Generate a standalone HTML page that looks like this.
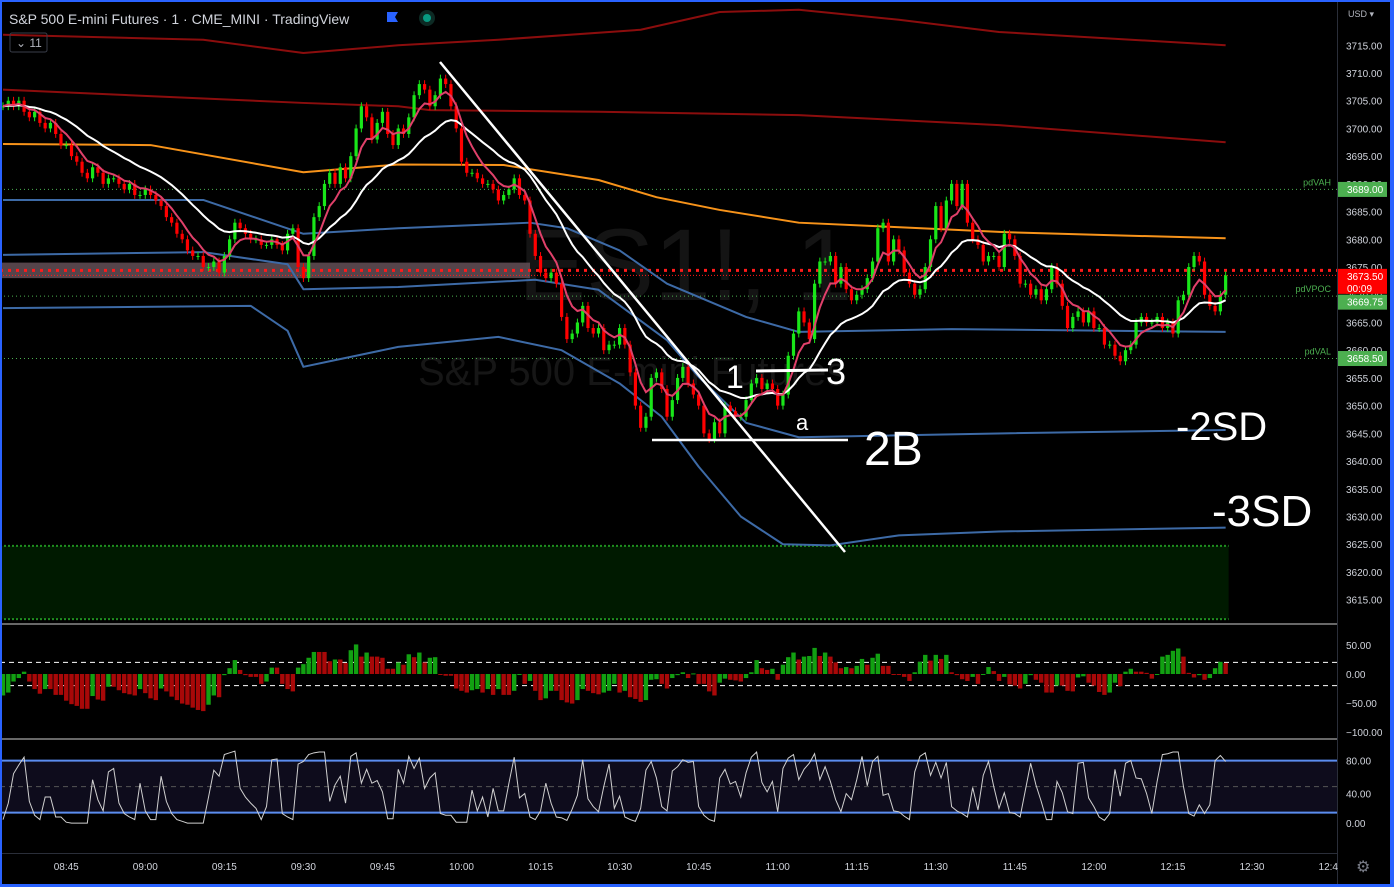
<!DOCTYPE html>
<html><head><meta charset="utf-8"><style>
html,body{margin:0;padding:0;background:#000;width:1394px;height:887px;overflow:hidden}
svg{display:block}
text{font-family:"Liberation Sans",sans-serif}
</style></head><body>
<svg id="c" width="1394" height="887" viewBox="0 0 1394 887" xmlns="http://www.w3.org/2000/svg">
<rect x="0" y="0" width="1394" height="887" fill="#000"/>
<g id="wm">
<text x="518" y="300" font-size="102" fill="#141414">ES1!, 1</text>
<text x="418" y="385" font-size="40" fill="#161616">S&amp;P 500 E-mini Futures</text>
</g>
<g id="main"></g>
<g id="hist"></g>
<g id="stoch"></g>
<g id="axes"></g>
<g id="draw" stroke="#fff" fill="none">
<line x1="440" y1="62" x2="845" y2="552" stroke-width="2.5"/>
<line x1="652" y1="440" x2="848" y2="440" stroke-width="2.5"/>
<line x1="756" y1="371" x2="828" y2="370" stroke-width="3"/>
</g>
<g fill="#fff">
<text x="726" y="388" font-size="32">1</text>
<text x="826" y="384" font-size="36">3</text>
<text x="796" y="430" font-size="22">a</text>
<text x="864" y="465" font-size="48">2B</text>
<text x="1176" y="440" font-size="40">-2SD</text>
<text x="1212" y="526" font-size="44">-3SD</text>
</g>
<g>
<text x="9" y="24" font-size="14" fill="#d1d4dc">S&amp;P 500 E-mini Futures · 1 · CME_MINI · TradingView</text>
<path d="M387 12 h11 l-3 5 l3 5 h-11 z" fill="#2962ff"/>
<circle cx="427" cy="18" r="8" fill="#0d2a24"/>
<circle cx="427" cy="18" r="4" fill="#089981"/>
<rect x="10" y="33" width="37" height="19" rx="2" fill="none" stroke="#3a3e4a"/>
<text x="16" y="47" font-size="12" fill="#b2b5be">⌄ 11</text>
<text x="1348" y="17" font-size="9" fill="#b2b5be">USD ▾</text>
<text x="1356" y="872" font-size="16" fill="#787b86">⚙</text>
</g>
<g fill="#2962ff">
<rect x="0" y="0" width="1394" height="2"/><rect x="0" y="0" width="2" height="887"/>
<rect x="1390" y="0" width="4" height="887"/><rect x="0" y="884" width="1394" height="3"/>
</g>
</svg>
<script>
const NS='http://www.w3.org/2000/svg';
// ---- data ----
const closes=[3704,3705,3704,3705,3703,3702,3703,3701,3700,3701,3699,3697,3697,3695,3694,3692,3691,3693,3692,3690,3691,3691,3690,3689,3690,3688,3688,3689,
3688,3687,3686,3684,3683,3681,3680,3678,3677,3677,3675,3675,3676,3674,3677,
3680,3683,3682,3681,3680,3680,3679,3679,3680,3679,3678,3681,3682,3675,3673,
3677,3684,3686,3690,3692,3690,3693,3691,3695,3700,3704,3702,3698,3701,3703,3699,3697,3700,3699,3702,3706,3708,3707,3704,3706,3709,3708,3704,3700,3694,
3692,3692,3691,3690,3690,3689,3687,3688,3689,3691,3688,3687,3681,3677,3674,3673,3674,3672,3666,3662,3663,3665,3668,3664,3663,3664,3660,3661,3661,3664,
3661,3656,3650,3646,3648,3655,3656,3653,3648,3651,3655,3657,3654,3652,3650,3645,3644,3647,3645,3650,3649,3648,3648,3651,3654,3655,3653,3654,3653,3650,
3652,3659,3663,3667,3665,3662,3672,3676,3676,3677,3672,3675,3671,3669,3670,3671,3673,3676,3682,3683,3676,3680,3678,3674,3672,3670,3671,3675,3680,3686,
3682,3687,3690,3686,3690,3683,3680,3679,3676,3677,3677,3675,3681,3680,3677,3672,3672,3670,3671,3669,3671,3675,3672,3668,3664,3666,3667,3665,3667,3664,
3664,3661,3661,3659,3658,3660,3661,3665,3666,3665,3665,3666,3664,3665,3663,3669,3670,3675,3677,3676,3670,3668,3667,3670,3673.5];
const histVals=[-37,-32,-13,-7,4,-13,-26,-34,-26,-26,-36,-36,-46,-52,-55,-60,-60,-38,-44,-46,-22,-22,-28,-33,-35,-37,-26,-33,-42,-45,
-25,-30,-39,-45,-51,-53,-58,-62,-64,-53,-37,-40,-2,10,24,7,-2,-5,-5,-17,-13,11,11,-17,-26,-30,11,17,28,38,
38,38,22,25,25,19,41,51,30,37,30,30,28,9,9,20,16,34,29,37,20,28,29,0,-3,-3,-25,-29,-32,-28,
-26,-32,-26,-36,-26,-36,-36,-29,0,-17,-12,-29,-45,-42,-29,-29,-45,-49,-51,-45,-26,-29,-33,-35,-32,-29,-17,-32,-29,-40,
-43,-48,-45,-10,-9,-17,-25,-7,-2,3,-7,
1,-17,-17,-30,-37,-15,-8,-10,-11,-13,-7,3,24,10,7,9,-10,16,29,37,25,30,31,45,31,37,30,20,10,12,
10,14,26,16,28,35,14,14,0,0,-5,-12,3,21,33,23,33,26,33,3,-2,-9,-12,-5,-17,0,12,5,-12,-5,
-18,-20,-25,-17,-2,-10,-15,-32,-32,-20,-20,-29,-30,-6,-4,-15,-20,-31,-36,-32,-15,-21,4,9,4,4,2,-8,0,30,
33,40,44,30,2,-6,-2,-10,-7,10,21,19];
const stochVals=[12,31,65,75,84,33,17,12,38,38,15,15,9,8,8,8,8,58,35,22,67,71,31,19,15,12,54,22,12,12,
62,33,19,12,10,8,8,8,8,38,69,62,87,89,91,48,38,31,25,12,27,81,82,19,15,12,76,79,87,89,
90,90,33,52,62,31,85,89,54,70,54,57,44,13,13,70,54,85,71,83,48,60,66,19,17,17,9,9,9,46,
22,38,15,48,22,22,54,84,37,42,15,12,22,54,31,15,14,11,24,40,81,36,27,21,50,76,25,39,15,12,
10,25,69,79,60,27,22,68,73,81,
78,79,27,17,12,10,60,70,53,56,38,66,84,90,55,44,56,21,71,83,87,58,70,77,88,58,73,56,35,21,
42,35,58,85,51,79,85,40,42,22,21,16,12,67,85,89,63,78,60,78,27,22,19,15,49,23,63,79,50,25,
43,20,19,15,46,77,52,33,12,12,56,43,21,19,77,78,37,27,15,11,19,70,39,77,80,60,59,42,19,56,
87,88,90,90,50,19,16,29,19,29,80,86,79];
const bandIdxOrange=[0,28,57,75,95,113,124,136,151,165,190,208,232];
const bandOrange=[3697.2,3697,3692.1,3693.5,3693.4,3690.7,3687.6,3685.3,3683,3682.4,3681.3,3680.8,3680.2];
const bandIdxB1=[0,38,57,66,75,100,107,117,126,141,151,180,232];
const bandB1=[3687.1,3687.1,3681,3681.5,3682,3683,3682,3678,3672,3666,3663.3,3663.8,3663.3];
const bandIdxB2=[0,38,54,57,75,101,113,126,132,141,151,190,232];
const bandB2=[3677.2,3677.7,3675.5,3671,3671.4,3672.7,3670.9,3661.8,3655.2,3646.9,3644.3,3645,3645.6];
const bandIdxB3=[0,47,54,57,62,75,94,106,117,125,132,140,148,157,170,189,232];
const bandB3=[3667.6,3668,3663.5,3657,3658,3660.6,3662.4,3660,3654,3648,3639,3630,3625,3624.8,3626.6,3627.3,3628];
const bandIdxR2=[0,57,75,81,113,151,189,232];
const bandR2=[3707,3704.6,3704,3703.3,3703,3702.4,3700.6,3697.5];
const bandIdxR3=[0,38,57,75,94,121,136,151,170,189,232];
const bandR3=[3716.9,3716,3713.6,3715,3716,3717.8,3721,3721.4,3719.6,3717.4,3715];
const priceTicks=[3715,3710,3705,3700,3695,3690,3685,3680,3675,3670,3665,3660,3655,3650,3645,3640,3635,3630,3625,3620,3615];
const timeLabels=['08:45','09:00','09:15','09:30','09:45','10:00','10:15','10:30','10:45','11:00','11:15','11:30','11:45','12:00','12:15','12:30','12:45'];
const startMinute=8*60+33;
const histTicks=[50,0,-50,-100];
const stochTicks=[80,40,0];
const levelVAH=3689, levelPOC=3669.75, levelVAL=3658.5, lastPrice=3673.5;
// ---- scales ----
const X=i=>3+5.27*i;
const Y=p=>73+(3710-p)*5.544;
const HY=v=>674-v*0.58;
const SY=v=>830-v*0.867;
function el(tag,attrs,parent){const e=document.createElementNS(NS,tag);for(const k in attrs)e.setAttribute(k,attrs[k]);parent.appendChild(e);return e;}
const main=document.getElementById('main'),hist=document.getElementById('hist'),stoch=document.getElementById('stoch'),axes=document.getElementById('axes');
// zones
let z=el('rect',{x:0,y:Y(3624.7),width:X(232)+3,height:Y(3611.5)-Y(3624.7),fill:'#001a00'},main);


[3624.7,3611.5].forEach(p=>{let l=el('line',{x1:0,x2:X(232)+3,y1:Y(p),y2:Y(p),stroke:'#1f8f1f','stroke-width':2,'stroke-dasharray':'2 2'},main);

});
let g=el('rect',{x:0,y:Y(3675.8),width:530,height:Y(3673)-Y(3675.8),fill:'#5e4b52',opacity:0.9},main);


// levels
[[levelVAH,'pdVAH'],[levelPOC,'pdVPOC'],[levelVAL,'pdVAL']].forEach(([p,n])=>{
 let l=el('line',{x1:0,x2:1338,y1:Y(p),y2:Y(p),stroke:'#4caf50','stroke-width':1,'stroke-dasharray':'1 3'},main);
 
 
 let t=el('text',{x:1331,y:Y(p)-4,'font-size':9,fill:'#4caf50','text-anchor':'end'},main);t.textContent=n;
 
 
});
let rl=el('line',{x1:0,x2:1338,y1:Y(lastPrice)-5,y2:Y(lastPrice)-5,stroke:'#ff1a1a','stroke-width':3,'stroke-dasharray':'3 5'},main);


let pl=el('line',{x1:0,x2:1338,y1:Y(lastPrice),y2:Y(lastPrice),stroke:'#ff1a1a','stroke-width':1,'stroke-dasharray':'1 2'},main);


// bands
function band(idx,vals,color,w,name){const pts=idx.map((i,k)=>X(i)+','+Y(vals[k])).join(' ');
 const b=el('polyline',{points:pts,fill:'none',stroke:color,'stroke-width':w,'stroke-linejoin':'round'},main);
 
 }
band(bandIdxR3,bandR3,'#8b0d0d',2,'vwap-upper-3sd');
band(bandIdxR2,bandR2,'#8b0d0d',2,'vwap-upper-2sd');
band(bandIdxOrange,bandOrange,'#f7931a',2,'vwap-line');
band(bandIdxB1,bandB1,'#3d6aa6',2,'vwap-lower-1sd');
band(bandIdxB2,bandB2,'#3d6aa6',2,'vwap-lower-2sd');
band(bandIdxB3,bandB3,'#3d6aa6',2,'vwap-lower-3sd');
// candles
for(let i=0;i<closes.length;i++){
 const o=i?closes[i-1]:closes[0],c=closes[i],up=c>=o,col=up?'#19e619':'#ff0000';
 const hi=Math.max(o,c)+0.7,lo=Math.min(o,c)-0.7;
 const w=el('line',{x1:X(i),x2:X(i),y1:Y(hi),y2:Y(lo),stroke:col,'stroke-width':1},main);
 
 
 const r=el('rect',{x:X(i)-1.6,y:Y(Math.max(o,c)),width:3.2,height:Math.max(1,Math.abs(Y(o)-Y(c))),fill:col},main);
 
 
}
function ema(a,n){const k=2/(n+1);let out=[],e=a[0];for(const v of a){e=v*k+e*(1-k);out.push(e);}return out;}
[[ema(closes,20),'#ffffff','ema-slow'],[ema(closes,6),'#e0406a','ema-fast']].forEach(([s,col,n])=>{
 const p=el('polyline',{points:s.map((v,i)=>X(i)+','+Y(v)).join(' '),fill:'none',stroke:col,'stroke-width':2},main);
 
 
});
// panel separators
[624,739].forEach(y=>{const l=el('line',{x1:0,x2:1338,y1:y,y2:y,stroke:'#d0d0d0','stroke-width':1},axes);
 
 });
let ta=el('line',{x1:0,x2:1338,y1:853.5,y2:853.5,stroke:'#2a2e39'},axes);


let pa=el('line',{x1:1337.5,x2:1337.5,y1:2,y2:884,stroke:'#2a2e39'},axes);


// histogram
[20,-20].forEach(v=>{const l=el('line',{x1:0,x2:1338,y1:HY(v),y2:HY(v),stroke:'#fff','stroke-dasharray':'5 4'},hist);
 
 });
histVals.forEach((v,i)=>{const up=i===0||v>histVals[i-1];
 const r=el('rect',{x:X(i)-2.2,y:Math.min(HY(v),HY(0)),width:4.4,height:Math.max(1,Math.abs(HY(v)-HY(0))),fill:up?'#12a012':'#a80808'},hist);
 
 });
histTicks.forEach(v=>{const t=el('text',{x:1346,y:HY(v)+4,'font-size':10,fill:'#d1d4dc'},hist);t.textContent=(v<0?'−':'')+Math.abs(v).toFixed(2);
 
 });
// stochastic
let sb=el('rect',{x:0,y:SY(80),width:1338,height:SY(20)-SY(80),fill:'#0e0c1c'},stoch);


let sm=el('line',{x1:0,x2:1338,y1:SY(50),y2:SY(50),stroke:'#555','stroke-dasharray':'5 4'},stoch);


[80,20].forEach(v=>{const l=el('line',{x1:0,x2:1338,y1:SY(v),y2:SY(v),stroke:'#5b8def','stroke-width':2},stoch);
 
 });
let sl=el('polyline',{points:stochVals.map((v,i)=>X(i)+','+SY(v)).join(' '),fill:'none',stroke:'#d0d0d0','stroke-width':1},stoch);


stochTicks.forEach(v=>{const t=el('text',{x:1346,y:SY(v)+4-(v===0?7:v===40?2:0),'font-size':10,fill:'#d1d4dc'},stoch);t.textContent=v.toFixed(2);
 
 });
// price axis
priceTicks.forEach(p=>{const t=el('text',{x:1346,y:Y(p)+4,'font-size':10,fill:'#d1d4dc'},axes);t.textContent=p.toFixed(2);
 
 });
function badge(top,txt,col,h,name){const r=el('rect',{x:1338,y:top,width:49,height:h,fill:col},axes);
 
 
 txt.forEach((s,k)=>{const t=el('text',{x:1347,y:top+11+k*12,'font-size':10,fill:'#fff'},axes);t.textContent=s;
 
 });}
badge(Y(levelVAH)-7.5,[levelVAH.toFixed(2)],'#4caf50',15,'vah-badge');
badge(Y(levelPOC)-1.5,[levelPOC.toFixed(2)],'#4caf50',15,'poc-badge');
badge(Y(lastPrice)-6.5,[lastPrice.toFixed(2),'00:09'],'#ff0000',25,'last-price-badge');
badge(Y(levelVAL)-7.5,[levelVAL.toFixed(2)],'#4caf50',15,'val-badge');
// time axis
timeLabels.forEach(s=>{const [h,m]=s.split(':').map(Number);const i=h*60+m-startMinute;
 if(X(i)>1345)return;
 const t=el('text',{x:X(i),y:870,'font-size':10,fill:'#d1d4dc','text-anchor':'middle'},axes);t.textContent=s;
 
 });
let cov=el('rect',{x:1338,y:854,width:52,height:30,fill:'#000'},axes);


</script>
</body></html>
